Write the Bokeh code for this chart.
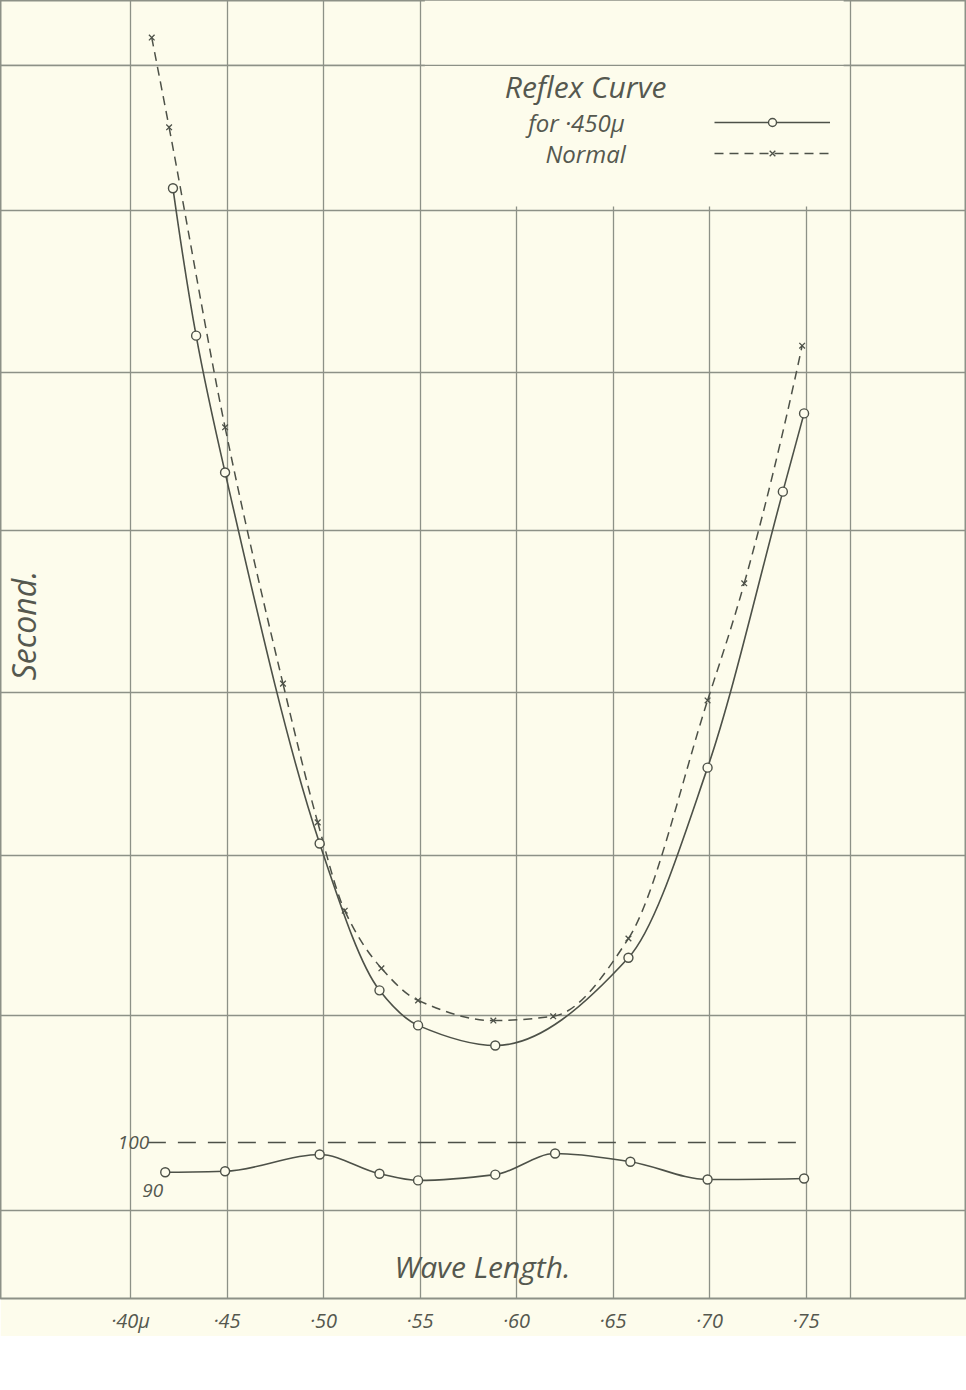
import numpy as np
from bokeh.plotting import figure
from bokeh.models import (FixedTicker, BoxAnnotation, Span, Label, Legend,
                          LegendItem, ColumnDataSource)
from bokeh.core.properties import value
from bokeh.embed import file_html
from bokeh.resources import INLINE

# ---------------- data ----------------
# Reflex curve for .450 mu (open circles, solid)
reflex_wl = [0.422, 0.434, 0.449, 0.498, 0.529, 0.549, 0.589, 0.658, 0.699, 0.738, 0.749]
reflex_val = [298.8, 268.1, 239.6, 162.3, 131.7, 124.4, 120.2, 138.5, 178.1, 235.6, 251.9]

# Normal curve (x marks, dashed)
normal_wl = [0.411, 0.420, 0.449, 0.479, 0.497, 0.511, 0.530, 0.549, 0.588, 0.619,
             0.658, 0.699, 0.718, 0.748]
normal_val = [330.2, 311.5, 249.0, 195.6, 166.7, 148.3, 136.3, 129.6, 125.4, 126.3,
              142.5, 192.1, 216.5, 266.0]

# Lower curve (ratio, open circles) and its 100 reference level
ratio_wl = [0.418, 0.449, 0.498, 0.529, 0.549, 0.589, 0.620, 0.659, 0.699, 0.749]
ratio_val = [93.8, 94.0, 97.5, 93.5, 92.1, 93.3, 97.7, 96.0, 92.3, 92.5]
ratio_ref = 100

x_ticks = [0.40, 0.45, 0.50, 0.55, 0.60, 0.65, 0.70, 0.75]
x_labels = ["·40μ", "·45", "·50", "·55", "·60", "·65", "·70", "·75"]
y_ticks = [100, 90]
y_labels = ["100", "90"]

# ruled grid of the paper
x_rules = x_ticks + [0.773]
y_rules = [85.8, 126.5, 159.8, 193.8, 227.5, 260.4, 294.2, 324.4]

# ---------------- styles ----------------
PAPER = "#fdfcec"
INK = "#4d5148"
RULE = "#8d9187"
TXT = "#55584f"
FONT = "Open Sans"


def smooth_bezier(xs, ys):
    """Monotone cubic (PCHIP) through the read points, as bezier segments."""
    x = np.asarray(xs, float)
    y = np.asarray(ys, float)
    n = len(x)
    h = np.diff(x)
    d = np.diff(y) / h
    m = np.zeros(n)
    for k in range(1, n - 1):
        if d[k - 1] * d[k] <= 0:
            m[k] = 0.0
        else:
            w1 = 2 * h[k] + h[k - 1]
            w2 = h[k] + 2 * h[k - 1]
            m[k] = (w1 + w2) / (w1 / d[k - 1] + w2 / d[k])

    def end(h0, h1, d0, d1):
        t = ((2 * h0 + h1) * d0 - h0 * d1) / (h0 + h1)
        if np.sign(t) != np.sign(d0):
            return 0.0
        if np.sign(d0) != np.sign(d1) and abs(t) > 3 * abs(d0):
            return 3 * d0
        return t

    m[0] = end(h[0], h[1], d[0], d[1])
    m[-1] = end(h[-1], h[-2], d[-1], d[-2])
    return dict(
        x0=x[:-1], y0=y[:-1], x1=x[1:], y1=y[1:],
        cx0=x[:-1] + h / 3, cy0=y[:-1] + m[:-1] * h / 3,
        cx1=x[1:] - h / 3, cy1=y[1:] - m[1:] * h / 3,
    )


p = figure(frame_width=966, frame_height=1298,
           x_range=(0.33264, 0.83316), y_range=(67.5, 337.92),
           y_axis_location=None, toolbar_location=None,
           output_backend="svg",
           min_border_left=0, min_border_right=0, min_border_top=0,
           min_border_bottom=6)

p.background_fill_color = PAPER
p.border_fill_color = PAPER
p.outline_line_color = RULE
p.outline_line_width = 2

# grid
p.xgrid.ticker = FixedTicker(ticks=x_rules)
p.ygrid.ticker = FixedTicker(ticks=y_rules)
for g in (p.xgrid, p.ygrid):
    g.grid_line_color = RULE
    g.grid_line_width = 1.3
    g.grid_line_alpha = 1.0

# blank area of the legend panel (no rules inside)
cover = BoxAnnotation(left=0.5525, right=0.7695, bottom=295.0,
                      fill_color=PAPER, fill_alpha=1.0, line_color=None,
                      level="underlay")
p.add_layout(cover)
p.add_layout(Span(location=324.4, dimension="width", line_color=RULE,
                  line_width=1.3, level="underlay"))

# x axis
p.xaxis.ticker = FixedTicker(ticks=x_ticks)
p.xaxis.major_label_overrides = {t: l for t, l in zip(x_ticks, x_labels)}
p.xaxis.axis_line_color = None
p.xaxis.major_tick_line_color = None
p.xaxis.minor_tick_line_color = None
p.xaxis.major_label_text_font = FONT
p.xaxis.major_label_text_font_style = "italic"
p.xaxis.major_label_text_font_size = "20px"
p.xaxis.major_label_text_color = TXT
p.xaxis.major_label_standoff = 2

# curves
nb = smooth_bezier(normal_wl, normal_val)
rb = smooth_bezier(reflex_wl, reflex_val)
lb = smooth_bezier(ratio_wl, ratio_val)

normal_line = p.bezier(source=ColumnDataSource(nb), x0="x0", y0="y0", x1="x1", y1="y1",
                       cx0="cx0", cy0="cy0", cx1="cx1", cy1="cy1",
                       line_color=INK, line_width=1.5, line_dash="9 6")
reflex_line = p.bezier(source=ColumnDataSource(rb), x0="x0", y0="y0", x1="x1", y1="y1",
                       cx0="cx0", cy0="cy0", cx1="cx1", cy1="cy1",
                       line_color=INK, line_width=1.6)
p.bezier(source=ColumnDataSource(lb), x0="x0", y0="y0", x1="x1", y1="y1",
         cx0="cx0", cy0="cy0", cx1="cx1", cy1="cy1",
         line_color=INK, line_width=1.6)

p.line(x=[min(ratio_wl) - 0.009, max(ratio_wl)], y=[ratio_ref, ratio_ref],
       line_color=INK, line_width=1.4, line_dash="18 12")

normal_pts = p.scatter(normal_wl, normal_val, marker="x", size=8,
                       line_color=INK, line_width=1.3)
reflex_pts = p.scatter(reflex_wl, reflex_val, marker="circle", size=9,
                       fill_color=PAPER, line_color=INK, line_width=1.4)
p.scatter(ratio_wl, ratio_val, marker="circle", size=9,
          fill_color=PAPER, line_color=INK, line_width=1.4)

# y labels for the lower scale
p.text(x=[0.4015, 0.4115], y=y_ticks, text=y_labels,
       text_font=value(FONT), text_font_style="italic", text_font_size="19px",
       text_color=TXT, text_align="center", text_baseline="middle")

# axis titles
p.add_layout(Label(x=0.5824, y=69.8, text="Wave Length.", text_font=FONT,
                   text_font_style="italic", text_font_size="30px",
                   text_color=TXT, text_align="center", text_baseline="bottom"))
p.add_layout(Label(x=0.3445, y=207.7, text="Second.", text_font=FONT,
                   text_font_style="italic", text_font_size="32px",
                   text_color=TXT, text_align="center", text_baseline="middle",
                   angle=np.pi / 2))

# legend text
p.add_layout(Label(x=0.6358, y=320.0, text="Reflex Curve", text_font=FONT,
                   text_font_style="italic", text_font_size="30px",
                   text_color=TXT, text_align="center", text_baseline="middle"))
p.add_layout(Label(x=0.6311, y=312.5, text="for ·450μ", text_font=FONT,
                   text_font_style="italic", text_font_size="24px",
                   text_color=TXT, text_align="center", text_baseline="middle"))
p.add_layout(Label(x=0.6358, y=306.0, text="Normal", text_font=FONT,
                   text_font_style="italic", text_font_size="24px",
                   text_color=TXT, text_align="center", text_baseline="middle"))

legend = Legend(items=[LegendItem(label=" ", renderers=[reflex_line, reflex_pts]),
                       LegendItem(label=" ", renderers=[normal_line, normal_pts])],
                location=(714, 1135), glyph_width=116, glyph_height=20,
                label_height=20, label_width=0, label_standoff=0,
                label_text_font_size="8px", spacing=11, padding=0, margin=0,
                border_line_color=None, background_fill_alpha=0.0)
p.add_layout(legend)

open("out.html", "w").write(file_html(p, INLINE))
